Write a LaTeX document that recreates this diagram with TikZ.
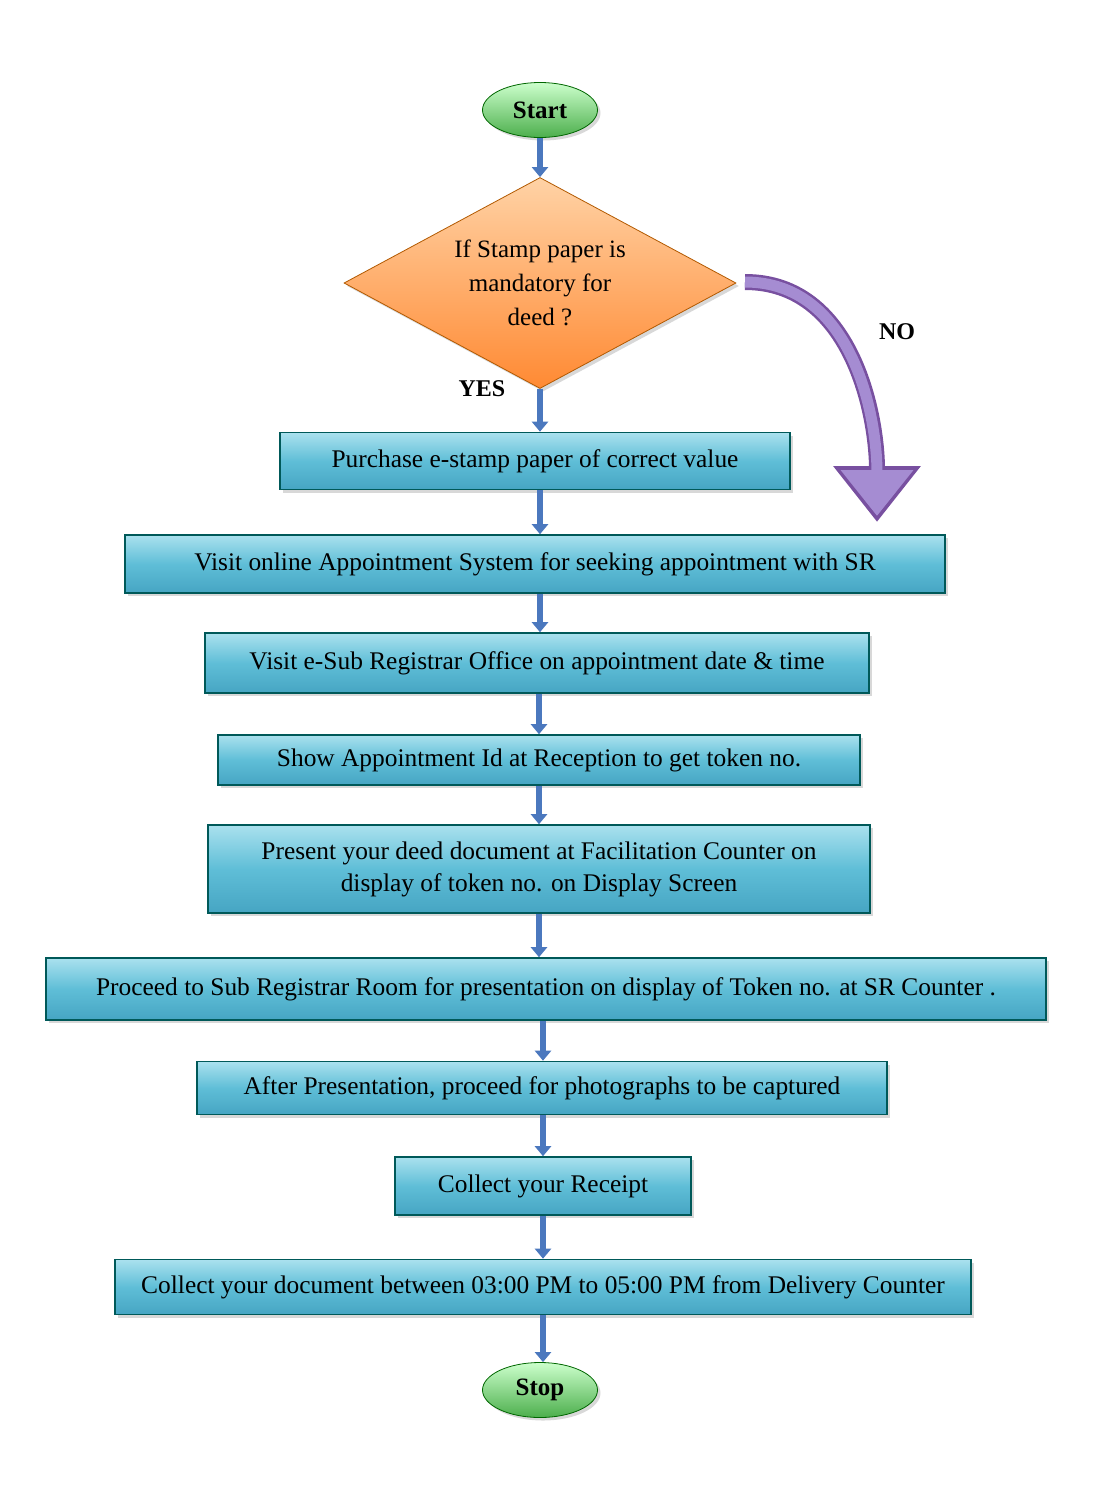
\documentclass[tikz,border=0pt]{standalone}
\usepackage{fontspec}
\setmainfont{Liberation Serif}
\usetikzlibrary{shapes.geometric,arrows.meta,shadows}
\definecolor{btop}{RGB}{170,225,238}
\definecolor{bmid}{RGB}{95,190,215}
\definecolor{bbot}{RGB}{70,165,195}
\definecolor{arc}{RGB}{75,120,190}
\definecolor{pur}{RGB}{120,80,160}
\definecolor{lav}{RGB}{165,140,210}
\begin{document}
\begin{tikzpicture}[x=0.5pt,y=-0.5pt,
 box/.style={draw=teal!70!black,line width=0.8pt,top color=btop,bottom color=bbot,middle color=bmid,drop shadow={shadow xshift=1.5pt,shadow yshift=-1.5pt,fill=gray!60},font=\fontsize{12.7}{16}\selectfont,align=center,inner sep=0pt},
 term/.style={ellipse,draw=green!40!black,top color=green!20!white,bottom color=green!55!black!70,drop shadow={shadow xshift=1.5pt,shadow yshift=-1.5pt,fill=gray!60},minimum width=57.5pt,minimum height=27.5pt,inner sep=0pt,font=\fontsize{12.5}{14}\selectfont\bfseries},
 ar/.style={-{Triangle[length=5pt,width=8pt]},line width=3pt,draw=arc},
 lbl/.style={font=\fontsize{12}{14}\selectfont\bfseries}]
\useasboundingbox (0,0) rectangle (1094,1500);
\node[term] (start) at (540,110) {Start};
\node[draw=orange!70!black,top color=orange!35!white,bottom color=orange!85!red!80,diamond,minimum width=196pt,minimum height=105.5pt,inner sep=0pt,aspect=1.86,font=\fontsize{12.5}{17}\selectfont,align=center,drop shadow={shadow xshift=1.5pt,shadow yshift=-1.5pt,fill=gray!60}] (dec) at (540,283) {If Stamp paper is\\mandatory for\\deed ?};
\node[box,minimum width=255pt,minimum height=28.5pt] (b1) at (535,461) {Purchase e-stamp paper of correct value};
\node[box,minimum width=410pt,minimum height=29pt] (b2) at (535,564) {Visit online Appointment System for seeking appointment with SR};
\node[box,minimum width=332pt,minimum height=30pt] (b3) at (537,663) {Visit e-Sub Registrar Office on appointment date \& time};
\node[box,minimum width=321pt,minimum height=25pt] (b4) at (539,760) {Show Appointment Id at Reception to get token no.};
\node[box,minimum width=331pt,minimum height=44pt] (b5) at (539,869) {Present your deed document at Facilitation Counter on\\display of token no. on Display Screen};
\node[box,minimum width=500pt,minimum height=31pt] (b6) at (546,989) {Proceed to Sub Registrar Room for presentation on display of Token no. at SR Counter .};
\node[box,minimum width=345pt,minimum height=26.5pt] (b7) at (542,1088) {After Presentation, proceed for photographs to be captured};
\node[box,minimum width=148pt,minimum height=29pt] (b8) at (543,1186) {Collect your Receipt};
\node[box,minimum width=428pt,minimum height=27.5pt] (b9) at (543,1287) {Collect your document between 03:00 PM to 05:00 PM from Delivery Counter};
\node[term] (stop) at (540,1390) {Stop};
\draw[ar] (start) -- (dec);
\draw[ar] (dec.south) -- (dec.south |- b1.north);
\draw[ar] (b1.south -| start) -- (b2.north -| start);
\draw[ar] (b2.south -| start) -- (b3.north -| start);
\draw[ar] (b3.south -| b4) -- (b4.north);
\draw[ar] (b4.south) -- (b5.north);
\draw[ar] (b5.south -| b4) -- (b6.north -| b4);
\draw[ar] (b6.south -| b8) -- (b7.north -| b8);
\draw[ar] (b7.south -| b8) -- (b8.north);
\draw[ar] (b8.south) -- (b9.north);
\draw[ar] (b9.south -| b8) -- (stop.north -| b8);
\coordinate (nostart) at (745,282);
\coordinate (noend) at (877,522);
\draw[line width=8pt,draw=pur,-{Triangle[length=28pt,width=42pt]}] (nostart) to[out=0,in=90] (noend);
\draw[line width=5.5pt,draw=lav,shorten >=3pt,-{Triangle[length=23pt,width=35pt]}] (nostart) to[out=0,in=90] (noend);
\node[lbl] (no) at (897,332) {NO};
\node[lbl] (yes) at (482,389) {YES};
\end{tikzpicture}
\end{document}
